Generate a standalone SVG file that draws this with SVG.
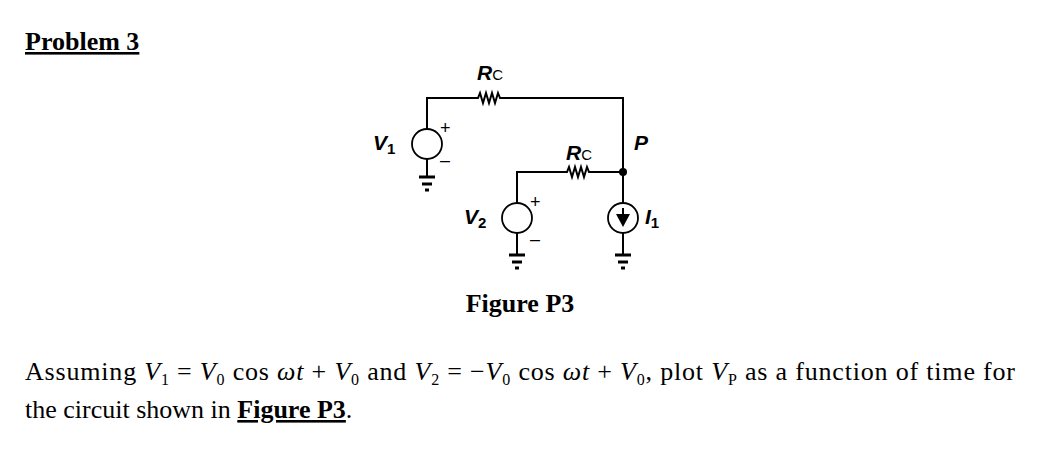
<svg xmlns="http://www.w3.org/2000/svg" width="1059" height="454" viewBox="0 0 1059 454">
<style>
.w{stroke:#000;stroke-width:2;fill:none}
.g{stroke:#000;stroke-width:3;fill:none}
.s{stroke:#000;stroke-width:1.8;fill:#fff}
.lb{font-family:"Liberation Sans",Arial,sans-serif;font-style:italic;font-weight:bold;font-size:21px}
.sub{font-size:15px;font-style:normal}
.pm{font-family:"Liberation Sans",Arial,sans-serif;font-size:18px}
.t{font-family:"Liberation Serif","Times New Roman",serif;font-size:26px}
.m{font-style:italic}
.ms{font-size:16px;font-style:normal}
</style>
<defs>
<g id="gnd"><path class="g" d="M-8,0H8M-5,7H5M-2,13H2"/></g>
</defs>
<text class="t" x="25" y="50" font-weight="bold" text-decoration="underline">Problem 3</text>
<g id="connectors">
<path class="w" d="M427,129V98H478l2,-5l3,10l3,-10l3,10l3,-10l3,10l3,-10l2,5H623V203"/>
<path class="w" d="M427,159V177"/>
<path class="w" d="M517,203V172H567l2,-5l3,10l3,-10l3,10l3,-10l3,10l3,-10l2,5H623"/>
<path class="w" d="M517,233V255"/>
<path class="w" d="M623,233V255"/>
<circle cx="623" cy="172" r="4"/>
</g>
<g id="V1"><circle class="s" cx="427" cy="144" r="15"/><text class="lb" x="373" y="150">V<tspan class="sub" dy="4">1</tspan></text>
<text class="pm" x="440" y="134">+</text><text class="pm" x="440" y="166">–</text>
<use href="#gnd" x="427" y="177"/></g>
<g id="R1"><text class="lb" x="477" y="80">R<tspan class="sub" font-size="17" font-weight="normal">C</tspan></text></g>
<g id="R2"><text class="lb" x="566" y="160">R<tspan class="sub" font-size="17" font-weight="normal">C</tspan></text></g>
<g id="P"><text class="lb" x="634" y="150">P</text></g>
<g id="V2"><circle class="s" cx="517" cy="218" r="15"/><text class="lb" x="464" y="224">V<tspan class="sub" dy="4">2</tspan></text>
<text class="pm" x="530" y="208">+</text><text class="pm" x="530" y="245">–</text>
<use href="#gnd" x="517" y="255"/></g>
<g id="I1"><circle class="s" cx="623" cy="218" r="15"/><path d="M623,208V222" stroke="#000" stroke-width="2"/><path d="M616,214H630L623,227Z"/>
<text class="lb" x="645" y="224">I<tspan class="sub" dy="4">1</tspan></text>
<use href="#gnd" x="623" y="255"/></g>
<text class="t" x="520" y="312" text-anchor="middle" font-weight="bold" font-size="22">Figure P3</text>
<text class="t" x="25" y="380" textLength="990" lengthAdjust="spacing">Assuming  <tspan class="m">V</tspan><tspan class="ms" dy="5">1</tspan><tspan dy="-5"> = </tspan><tspan class="m">V</tspan><tspan class="ms" dy="5">0</tspan><tspan dy="-5"> cos </tspan><tspan class="m">ωt</tspan> + <tspan class="m">V</tspan><tspan class="ms" dy="5">0</tspan><tspan dy="-5">  and  </tspan><tspan class="m">V</tspan><tspan class="ms" dy="5">2</tspan><tspan dy="-5"> = −</tspan><tspan class="m">V</tspan><tspan class="ms" dy="5">0</tspan><tspan dy="-5"> cos </tspan><tspan class="m">ωt</tspan> + <tspan class="m">V</tspan><tspan class="ms" dy="5">0</tspan><tspan dy="-5">,  plot  </tspan><tspan class="m">V</tspan><tspan class="ms m" dy="5">P</tspan><tspan dy="-5">  as  a  function  of  time  for</tspan></text>
<text class="t" x="25" y="418">the circuit shown in <tspan font-weight="bold" text-decoration="underline">Figure P3</tspan>.</text>
</svg>
